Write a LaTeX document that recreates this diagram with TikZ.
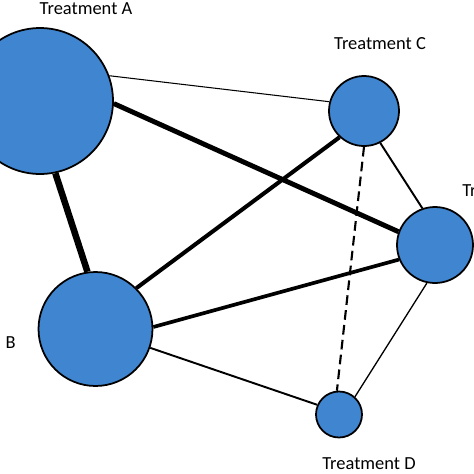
\documentclass[tikz,border=0pt]{standalone}
\usepackage{fontspec}
\setmainfont{Carlito}
\usepackage{tikz}
\definecolor{trtblue}{RGB}{64,133,208}

\begin{document}
\begin{tikzpicture}[x=0.02cm, y=-0.02cm,
    trt/.style={circle, draw=black, line width=1pt, fill=trtblue, inner sep=0pt},
    lbl/.style={font=\fontsize{10.5}{12}\selectfont, inner sep=0pt}]
    \useasboundingbox (0,0) rectangle (474,474);
\node[trt, minimum size=2.92cm] (trtA) at (40, 101) {}; % Treatment A
\node[trt, minimum size=2.28cm] (trtB) at (95.5, 329) {}; % Treatment B
\node[trt, minimum size=1.40cm] (trtC) at (364, 111) {}; % Treatment C
\node[trt, minimum size=0.92cm] (trtD) at (339, 414.5) {}; % Treatment D
\node[trt, minimum size=1.52cm] (trtE) at (435, 245) {}; % Treatment E
\node[lbl] (lblA) at (86, 9) {Treatment A};
\node[lbl] (lblC) at (380, 44) {Treatment C};
\node[lbl] (lblD) at (369, 464) {Treatment D};
\node[lbl, anchor=east] (lblB) at (16, 343) {B};
\node[lbl, anchor=west] (lblE) at (462, 191) {Tr};
\draw[line width=0.6pt] (trtA.20) -- (trtC.165) ; % A-C
\draw[line width=2.8pt] (trtA.-2) -- (trtE.160) ; % A-E
\draw[line width=3.7pt] (trtA.-78) -- (trtB.98) ; % A-B
\draw[line width=2.3pt] (trtB.45) -- (trtC.-133) ; % B-C
\draw[line width=2.1pt] (trtB.2) -- (trtE.-158) ; % B-E
\draw[line width=1.1pt] (trtB.-19) -- (trtD.156) ; % B-D
\draw[line width=1.1pt] (trtC.-63) -- (trtE.109) ; % C-E
\draw[line width=1.2pt, dash pattern=on 5.5pt off 3pt] (trtC.south) -- (trtD.95) ; % C-D
\draw[line width=0.75pt] (trtD.48) -- (trtE.-102) ; % D-E

    \end{tikzpicture}
\end{document}
